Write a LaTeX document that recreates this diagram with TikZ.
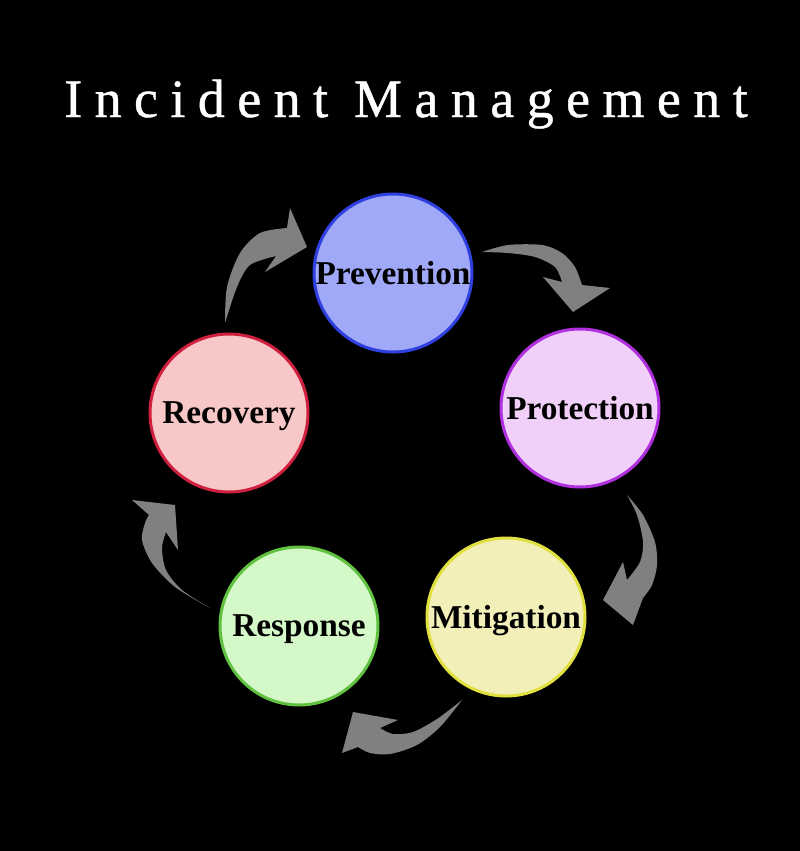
\documentclass[tikz,border=0pt]{standalone}
\usepackage{fontspec}
\setmainfont{Liberation Serif}
\newfontfamily\titlefont[LetterSpace=23,FakeBold=0.8]{Liberation Serif}
\definecolor{arrowgray}{RGB}{128,128,130}
\definecolor{prevfill}{RGB}{160,168,248}
\definecolor{prevline}{RGB}{48,64,224}
\definecolor{protfill}{RGB}{240,208,248}
\definecolor{protline}{RGB}{176,48,224}
\definecolor{mitfill}{RGB}{242,240,184}
\definecolor{mitline}{RGB}{224,224,64}
\definecolor{respfill}{RGB}{212,248,200}
\definecolor{respline}{RGB}{96,192,64}
\definecolor{recfill}{RGB}{248,200,200}
\definecolor{recline}{RGB}{208,32,64}
\tikzset{
  stage/.style={circle, minimum size=118.5pt, inner sep=0pt, line width=2.25pt,
    font=\bfseries\fontsize{25}{30}\selectfont, text=black, text depth=0pt},
  curvearrow/.style={fill=arrowgray}
}
\begin{document}
\begin{tikzpicture}[x=0.75pt,y=-0.75pt]
\fill[black] (0,0) rectangle (800,851);
\useasboundingbox (0,0) rectangle (800,851);

\node[anchor=base, text=white, font=\titlefont\fontsize{40.5}{48}\selectfont] (title) at (406,117) {Incident Management};

\node[stage, fill=prevfill, draw=prevline] (prev) at (393,273) {Prevention};
\node[stage, fill=protfill, draw=protline] (prot) at (580,408) {Protection};
\node[stage, fill=mitfill, draw=mitline] (mit) at (506,617) {Mitigation};
\node[stage, fill=respfill, draw=respline] (resp) at (299,626) {Response};
\node[stage, fill=recfill, draw=recline] (rec) at (229,413) {Recovery};

% Recovery -> Prevention
\fill[curvearrow] plot[smooth] coordinates {(225,323) (227,287) (240,253) (260,233) (287,228)}
  -- (290,208) -- (307,247) -- (265,272) -- (276,256)
  -- plot[smooth] coordinates {(276,256) (250,265) (237,287) (225,323)} -- cycle;
% Prevention -> Protection
\fill[curvearrow] plot[smooth] coordinates {(482,252) (508,245) (542,245) (562,253) (575,267) (582,285)}
  -- (610,288) -- (573,312) -- (543,277) -- (562,282)
  -- plot[smooth] coordinates {(562,282) (555,267) (535,257) (508,253) (482,252)} -- cycle;
% Protection -> Mitigation
\fill[curvearrow] plot[smooth] coordinates {(627,495) (643,515) (655,542) (657,565) (652,585) (643,598)}
  -- (633,625) -- (603,600) -- (623,562) -- (627,580)
  -- plot[smooth] coordinates {(627,580) (640,562) (643,542) (637,515) (627,495)} -- cycle;
% Mitigation -> Response
\fill[curvearrow] plot[smooth] coordinates {(462,700) (440,727) (417,745) (390,754) (370,753) (358,747)}
  -- (342,753) -- (353,712) -- (398,720) -- (380,728)
  -- plot[smooth] coordinates {(380,728) (393,734) (413,732) (437,719) (462,700)} -- cycle;
% Response -> Recovery
\fill[curvearrow] plot[smooth] coordinates {(210,608) (175,587) (152,563) (142,540) (145,523) (149,515)}
  -- (132,500) -- (175,505) -- (178,550) -- (166,532)
  -- plot[smooth] coordinates {(166,532) (162,548) (166,570) (182,590) (210,608)} -- cycle;
\end{tikzpicture}
\end{document}
